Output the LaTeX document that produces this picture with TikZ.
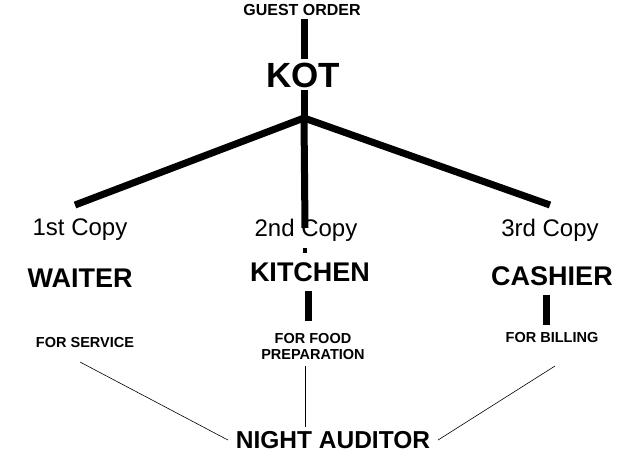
\documentclass[tikz,border=0pt]{standalone}
\usepackage{fontspec}
\setmainfont{Liberation Sans}
\begin{document}
\begin{tikzpicture}[x=1pt,y=-1pt,
  thick line/.style={line width=7pt},
  thin line/.style={line width=0.6pt},
  lbl/.style={inner sep=1pt,font=\fontsize{24}{26}\selectfont},
  big/.style={inner sep=1pt,font=\bfseries\fontsize{27}{29}\selectfont},
  small/.style={inner sep=1pt,align=center,font=\bfseries\fontsize{14.5}{16}\selectfont}]
\useasboundingbox (0,0) rectangle (625,467);
\fill[white] (0,0) rectangle (625,467);
\node[small,font=\bfseries\fontsize{16}{18}\selectfont] (go) at (302,10) {GUEST ORDER};
\node[big,font=\bfseries\fontsize{35}{37}\selectfont] (kot) at (303,75) {KOT};
\coordinate (hub) at (304,118);
\coordinate (l) at (75,205);
\coordinate (r) at (550,205);
\coordinate (m) at (305,228);
\coordinate (gb) at (304,19);
\coordinate (kt) at (304,59);
\coordinate (kb) at (304,90);
\draw[thick line] (gb) -- (kt);
\draw[thick line] (kb) -- (hub);
\draw[thick line,line join=round] (l) -- (hub) -- (r);
\draw[thick line] (hub) -- (m);
\node[lbl] (c1) at (80,230) {1st Copy};
\node[lbl] (c2) at (306,230) {2nd Copy};
\node[lbl] (c3) at (550,230) {3rd Copy};
\draw[line width=4pt] (305,248) -- (305,253);
\node[big] (w) at (80,278) {WAITER};
\node[big] (k) at (310,272) {KITCHEN};
\node[big] (c) at (552,276) {CASHIER};
\coordinate (k1) at (308,291);
\coordinate (k2) at (308,321);
\coordinate (c1b) at (546,295);
\coordinate (c2b) at (546,325);
\draw[thick line] (k1) -- (k2);
\draw[thick line] (c1b) -- (c2b);
\node[small] (s) at (85,343) {FOR SERVICE};
\node[small] (f) at (313,347) {FOR FOOD\\PREPARATION};
\node[small] (b) at (552,338) {FOR BILLING};
\node[big,font=\bfseries\fontsize{24.5}{26}\selectfont,outer sep=7pt] (na) at (333,440) {NIGHT AUDITOR};
\draw[thin line] (80,362) -- (na.west);
\draw[thin line] (305,366) -- (305,427);
\draw[thin line] (555,366) -- (na.east);
\end{tikzpicture}
\end{document}
